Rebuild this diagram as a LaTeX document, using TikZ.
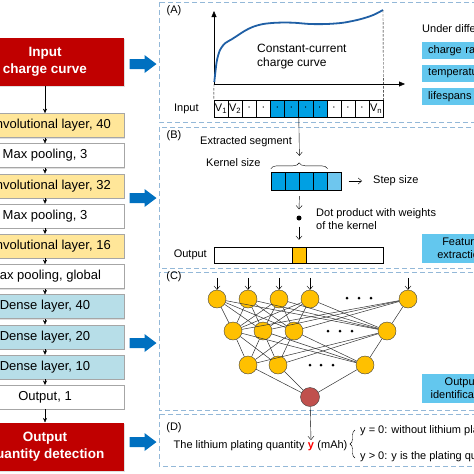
\documentclass[tikz,border=0pt]{standalone}
\usepackage{fontspec}
\setmainfont{Liberation Sans}
\usepackage{tikz}
\usetikzlibrary{positioning,
				arrows.meta,
				shadows,
				decorations.pathreplacing,
				calc}

\definecolor{boxred}{HTML}{C00000}
\definecolor{convyellow}{HTML}{FFE699}
\definecolor{denseblue}{HTML}{B7DEE8}
\definecolor{arrowblue}{HTML}{0070C0}
\definecolor{panelline}{HTML}{93B8D8}
\definecolor{tagblue}{HTML}{63C7EE}
\definecolor{cellblue}{HTML}{00A0E3}
\definecolor{celllight}{HTML}{6EC6EE}
\definecolor{neuron}{HTML}{FFC000}
\definecolor{outneuron}{HTML}{C0504D}
\definecolor{curveblue}{HTML}{1F5FA5}

\begin{document}
\begin{tikzpicture}[x=1pt, y=-1pt,
	every node/.style={font=\fontsize{11}{13}\selectfont, inner sep=0pt},
	layer/.style={draw=black!35, minimum width=158pt, minimum height=24pt, font=\fontsize{13}{15}\selectfont,
		drop shadow={opacity=.25, shadow xshift=1.2pt, shadow yshift=-1.2pt}},
	conv/.style={layer, fill=convyellow},
	pool/.style={layer, fill=white},
	dense/.style={layer, fill=denseblue},
	io/.style={layer, fill=boxred, draw=none, minimum height=48pt, text=white, align=center,
		font=\fontsize{13.5}{17.5}\selectfont\bfseries},
	flow/.style={-{Stealth[length=4.5pt,width=4pt]}, black},
	barb/.style={-{Straight Barb[length=3.5pt,width=6pt]}, black},
	panel/.style={draw=panelline, dash pattern=on 5pt off 3pt, line width=.8pt},
	tag/.style={fill=tagblue, minimum width=78pt, minimum height=16.5pt, inner xsep=6pt, text width=66pt, align=left},
	bigtag/.style={fill=tagblue, minimum width=78pt, minimum height=29pt, align=center},
	cell/.style={draw, minimum width=14.1pt, minimum height=17pt},
	unit/.style={circle, draw=black!75, fill=neuron, minimum size=18pt},
	wire/.style={black!80, line width=.5pt},
	blockarrow/.pic={\fill[arrowblue] (-13.5,-5) -- (1.5,-5) -- (1.5,-9) -- (13.5,0) -- (1.5,9) -- (1.5,5) -- (-13.5,5) -- cycle;}
	]
	\useasboundingbox (0,0) rectangle (474,474);
	\clip (0,0) rectangle (474,474);

	\node[io] (inp) at (45,62) {Input\\charge curve};
	\node[conv, below=27pt of inp] (cv1) {Convolutional layer, 40};
	\node[pool, below=5.8pt of cv1] (mp1) {Max pooling, 3};
	\node[conv, below=5.8pt of mp1] (cv2) {Convolutional layer, 32};
	\node[pool, below=5.8pt of cv2] (mp2) {Max pooling, 3};
	\node[conv, below=5.8pt of mp2] (cv3) {Convolutional layer, 16};
	\node[pool, below=5.8pt of cv3] (mp3) {Max pooling, global};
	\node[dense, below=5.8pt of mp3] (ds1) {Dense layer, 40};
	\node[dense, below=5.8pt of ds1] (ds2) {Dense layer, 20};
	\node[dense, below=5.8pt of ds2] (ds3) {Dense layer, 10};
	\node[pool, below=5.8pt of ds3] (out1) {Output, 1};
	\node[io, below=13pt of out1] (outq) {Output\\Quantity detection};
	\foreach \a/\b in {inp/cv1, cv1/mp1, mp1/cv2, cv2/mp2, mp2/cv3, cv3/mp3, mp3/ds1, ds1/ds2, ds2/ds3, ds3/out1, out1/outq}
		\draw[flow] (\a) -- (\b);

	\foreach \y in {64,198,343,442}
		\pic at (143,\y) {blockarrow};

	\draw[panel] (159,2) rectangle (490,122);
	\draw[panel] (159,127) rectangle (490,268);
	\draw[panel] (159,272) rectangle (490,410);
	\draw[panel] (159,414) rectangle (490,466);

	% (A)
	\node at (174,11) {(A)};
	\coordinate (o) at (214,84);
	\coordinate (cend) at (383,10);
	\draw[-{Triangle[length=6pt,width=5pt]}] (o) -- (214,11);
	\draw[-{Triangle[length=6pt,width=5pt]}] (o) -- (405,84);
	\draw[curveblue, line width=1.8pt] plot[smooth] coordinates {(214.3,82) (216.7,61.7) (220,50) (225,43.3)
		(231.7,39.3) (238.3,35) (245,30.7) (253.3,26.7) (263.3,24) (276.7,22.7) (293.3,22.7) (310,24)
		(326.7,24) (343.3,22.7) (360,19.3) (373.3,15) (cend)};
	\node[anchor=west, align=left, font=\fontsize{12}{13.5}\selectfont] (cc) at (257,56.5) {Constant-current\\charge curve};
	\foreach \t/\c [count=\i] in {V\textsubscript{1}/white, V\textsubscript{2}/white, ·/white, ·/white,
		·/cellblue, ·/cellblue, ·/cellblue, ·/cellblue, ·/white, ·/white, ·/white, V\textsubscript{n}/white}
		\node[cell, fill=\c] (in\i) at ({214+14.1*(\i-0.5)},108.5) {\t};
	\node[left=15pt of in1] (inlab) {Input};
	\draw[dashed, dash pattern=on 2.5pt off 1.5pt] (o) -- (in1.north west);
	\draw[dashed, dash pattern=on 2.5pt off 1.5pt] (cend) -- (in12.north east);
	\node[anchor=west] (cond) at (422,29) {Under different conditions};
	\node[tag, anchor=north west] (rate) at (422,42) {charge rates};
	\node[tag, below=6pt of rate] (temp) {temperatures};
	\node[tag, below=6pt of temp] (life) {lifespans};

	% (B)
	\node at (174,136) {(B)};
	\node[anchor=west] (seg) at (200,142) {Extracted segment};
	\node[anchor=west] (ks) at (206,163) {Kernel size};
	\foreach \c [count=\i] in {cellblue,cellblue,cellblue,cellblue,celllight}
		\node[cell, fill=\c, minimum height=18pt] (k\i) at ({271+14.1*(\i-0.5)},181) {};
	\draw[decorate, decoration={brace, amplitude=6pt}] ([yshift=3pt]k1.north west) -- ([yshift=3pt]k4.north east);
	\coordinate (brtip) at ([yshift=16pt]k2.north east);
	\draw[barb] (in6.south east) -- (brtip);
	\node[anchor=west] (step) at (373,181) {Step size};
	\draw[barb] ([xshift=7pt]k5.east) -- ([xshift=-11pt]step.west);
	\node[circle, fill, minimum size=5pt] (dot) at (299,218) {};
	\node[anchor=west, align=left] (dotlab) at (316,219.5) {Dot product with weights\\of the kernel};
	\node[draw, minimum width=169pt, minimum height=16pt, anchor=west] (obar) at (214,255) {};
	\node[draw, fill=neuron, minimum width=14pt, minimum height=16pt] (ocell) at (299,255) {};
	\node[left=7pt of obar] (olab) {Output};
	\draw[barb] ([yshift=-6pt]k2.south east) -- ([yshift=6pt]dot.north);
	\draw[barb] ([yshift=-6pt]dot.south) -- ([yshift=7pt]ocell.north);
	\node[bigtag, anchor=north west] (feat) at (422,234) {Feature\\extraction};

	% (C)
	\node at (174,277) {(C)};
	\foreach \x [count=\i] in {217,248,279,310,408}
		\node[unit] (a\i) at (\x,299) {};
	\foreach \x [count=\i] in {233,263,294,387}
		\node[unit] (b\i) at (\x,331) {};
	\foreach \x [count=\i] in {248,278,365}
		\node[unit] (c\i) at (\x,365) {};
	\node[unit, fill=outneuron, minimum size=19pt] (yout) at (310,397) {};
	\foreach \i in {1,...,5}
		\foreach \j in {1,...,4}
			\draw[wire] (a\i) -- (b\j);
	\foreach \i in {1,...,4}
		\foreach \j in {1,...,3}
			\draw[wire] (b\i) -- (c\j);
	\foreach \i in {1,...,3}
		\draw[wire] (c\i) -- (yout);
	\foreach \i in {1,...,5}
		\draw[barb] ([yshift=12pt]a\i.north) -- (a\i.north);
	\foreach \x in {347,359,371}
		\fill (\x,298) circle (1.5);
	\foreach \x in {328,340,352}
		\fill (\x,331) circle (1.5);
	\foreach \x in {310,321,333}
		\fill (\x,365) circle (1.5);
	\node[bigtag, anchor=north west] (ident) at (422,374) {Output\\identification};

	% (D)
	\node at (174,428) {(D)};
	\node[anchor=base, text=red] (yq) at (311,448) {\textbf{y}};
	\node[anchor=base east] (lith) at ([xshift=-3pt]yq.base west) {The lithium plating quantity};
	\node[anchor=base west] (mah) at ([xshift=3pt]yq.base east) {(mAh)};
	\draw[barb] (yout) -- ([yshift=2pt]yq.north);
	\draw[decorate, decoration={brace, amplitude=5pt}] (355,458) -- (355,430);
	\node[anchor=west] (ynone) at (360,431) {y = 0: without lithium plating};
	\node[anchor=west] (ysome) at (360,457) {y > 0: y is the plating quantity};
\end{tikzpicture}
\end{document}
